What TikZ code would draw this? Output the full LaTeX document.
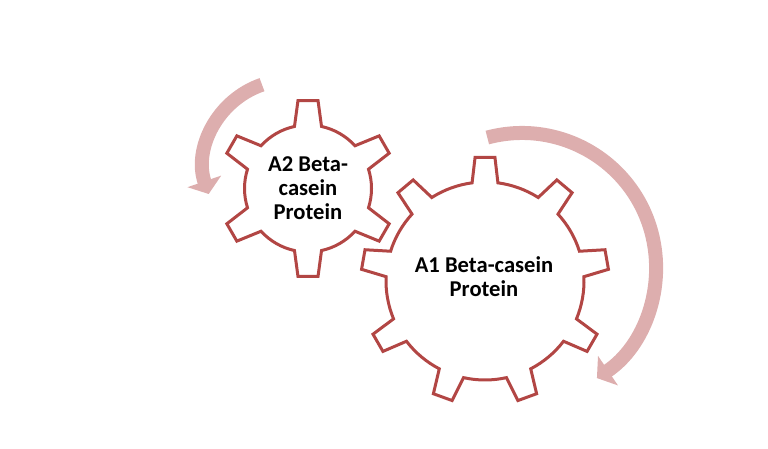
\documentclass[tikz,border=0pt]{standalone}
\usepackage{fontspec}
\setmainfont{Carlito}
\usetikzlibrary{arrows.meta}
\definecolor{gearred}{RGB}{178,70,68}
\definecolor{turnpink}{RGB}{221,174,174}

\begin{document}
\begin{tikzpicture}[x=0.03cm,y=0.03cm,
  gear/.style={draw=gearred, line width=0.09cm, fill=white},
  turn/.style={draw=turnpink, line width=0.42cm, -{Triangle[width=1.05cm,length=0.4cm]}},
  label/.style={align=center, font=\fontsize{19.3}{20.5}\selectfont\bfseries}]
  \useasboundingbox (0,0) rectangle (768,448);
  \coordinate (a2c) at (308,259.5);
  \coordinate (a1c) at (485,167);
  % turning arrows
  \draw[turn] (290,282) ++(109:86) arc[start angle=109, end angle=199, radius=86];
  \draw[turn] (522,181) ++(105:134) arc[start angle=105, end angle=-56, radius=134];
  % small gear, 6 teeth
  \draw[gear, shift={(a2c)}] (77.7:63.5)
    \foreach \a in {90,150,...,390} {
      -- (\a-12.3:63.5) -- (\a-6.5:88.5) -- (\a+6.5:88.5) -- (\a+12.3:63.5)
      arc[start angle=\a+12.3, end angle=\a+47.7, radius=63.5]
    } -- cycle;
  % big gear, 9 teeth
  \draw[gear, shift={(a1c)}] (82.5:99)
    \foreach \a in {90,130,...,410} {
      -- (\a-7.5:99) -- (\a-4.6:124) -- (\a+4.6:124) -- (\a+7.5:99)
      arc[start angle=\a+7.5, end angle=\a+32.5, radius=99]
    } -- cycle;
  \node[label] (a2) at (a2c) {A2 Beta-\\casein\\Protein};
  \node[label] (a1) at (484,171) {A1 Beta-casein\\Protein};
\end{tikzpicture}
\end{document}
